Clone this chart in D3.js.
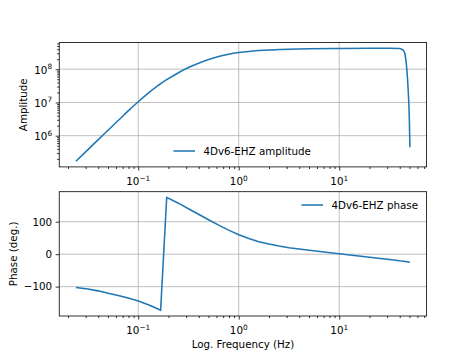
<!DOCTYPE html>
<html><head><meta charset="utf-8">
<script src="https://cdn.jsdelivr.net/npm/d3@7"></script>
<style>
body{margin:0;background:#fff}
text{font-family:"DejaVu Sans",sans-serif;fill:#000}
</style>
</head><body><svg id="c" width="474" height="355"></svg>
<script>
// ---- data ----
const freqs = [0.024, 0.0316, 0.0398, 0.0501, 0.0631, 0.0794, 0.1, 0.126, 0.158, 0.167, 0.192, 0.251, 0.316, 0.398, 0.501, 0.631, 0.794, 1, 1.26, 1.58, 2.0, 2.51, 3.16, 5.01, 10, 20, 31.6, 39.8, 41.8, 43.6, 45.1, 46.9, 48.6, 49.8, 50.5];
const amplitude = [1.70e5, 3.80e5, 7.50e5, 1.46e6, 2.85e6, 5.56e6, 1.05e7, 1.91e7, 3.27e7, 3.67e7, 4.84e7, 7.85e7, 1.12e8, 1.51e8, 1.95e8, 2.40e8, 2.82e8, 3.16e8, 3.43e8, 3.63e8, 3.80e8, 3.89e8, 3.98e8, 4.12e8, 4.22e8, 4.27e8, 4.27e8, 4.17e8, 3.98e8, 3.63e8, 2.82e8, 1.12e8, 2.24e7, 3.55e6, 4.47e5];
const phase = [-102.5, -107.5, -113, -120, -127, -135, -144, -155.5, -169, -173, 175, 157, 140, 123, 106, 89.5, 74, 60, 48, 38.5, 31, 25, 20, 12, 1, -9.5, -16.5, -20.5, -21.2, -22, -22.7, -23.5, -24.2, -24.7, -25];
const freqTicks = [0.1, 1, 10];
const ampTicks = [1e6, 1e7, 1e8];
const phaseTicks = [-100, 0, 100];
const seriesNames = ["4Dv6-EHZ amplitude", "4Dv6-EHZ phase"];
const xLabel = "Log. Frequency (Hz)";
const ampLabel = "Amplitude";
const phaseLabel = "Phase (deg.)";

// ---- layout ----
const L = 59.25, R = 426.6, T1 = 42.6, B1 = 166.9, T2 = 191.7, B2 = 316;
const FS = 10.3, SUP = 7.3, TL = 3.6, TM = 2.1;
const color = "#1f77b4";
const svg = d3.select("#c");

function logMargin(ext) {
  const a = Math.log10(ext[0]), b = Math.log10(ext[1]), m = (b - a) * 0.05;
  return [10 ** (a - m), 10 ** (b + m)];
}
const x = d3.scaleLog().domain(logMargin(d3.extent(freqs))).range([L, R]);
const yA = d3.scaleLog().domain(logMargin(d3.extent(amplitude))).range([B1, T1]);
const pe = d3.extent(phase), pm = (pe[1] - pe[0]) * 0.05;
const yP = d3.scaleLinear().domain([pe[0] - pm, pe[1] + pm]).range([B2, T2]);

function minors(scale) {
  const [a, b] = scale.domain();
  const out = [];
  for (let e = Math.floor(Math.log10(a)); e <= Math.ceil(Math.log10(b)); e++)
    for (let k = 2; k <= 9; k++) { const v = k * 10 ** e; if (v >= a && v <= b) out.push(v); }
  return out;
}
const expText = v => { const e = Math.round(Math.log10(v)); return e < 0 ? "\u2212" + (-e) : String(e); };

function supLabel(g, text, opts) {
  const t = g.append("text").attr("x", opts.x).attr("y", opts.y)
    .attr("text-anchor", opts.anchor).style("font-size", FS + "px");
  t.append("tspan").text("10");
  t.append("tspan").attr("dy", -4.3).style("font-size", SUP + "px").text(text);
}

function panel(top, bottom, yScale, yTickVals, isLog, yMinor) {
  const g = svg.append("g");
  freqTicks.forEach(v => g.append("line").attr("x1", x(v)).attr("x2", x(v)).attr("y1", top).attr("y2", bottom)
    .attr("stroke", "#b0b0b0").attr("stroke-width", 0.8));
  yTickVals.forEach(v => g.append("line").attr("x1", L).attr("x2", R).attr("y1", yScale(v)).attr("y2", yScale(v))
    .attr("stroke", "#b0b0b0").attr("stroke-width", 0.8));
  const xa = g.append("g").attr("transform", `translate(0,${bottom})`)
    .call(d3.axisBottom(x).tickValues(freqTicks).tickSize(TL).tickFormat(""));
  xa.select(".domain").remove();
  const xm = g.append("g").attr("transform", `translate(0,${bottom})`)
    .call(d3.axisBottom(x).tickValues(minors(x)).tickSize(TM).tickFormat(""));
  xm.select(".domain").remove();
  g.selectAll(".tick line").attr("stroke", "#000").attr("stroke-width", 0.8);
  freqTicks.forEach(v => supLabel(g, expText(v), { x: x(v), y: bottom + 18.3, anchor: "middle" }));
  const ya = g.append("g").attr("transform", `translate(${L},0)`)
    .call(d3.axisLeft(yScale).tickValues(yTickVals).tickSize(TL).tickPadding(3.6)
      .tickFormat(isLog ? "" : d3.format("d")));
  ya.select(".domain").remove();
  ya.selectAll("line").attr("stroke", "#000").attr("stroke-width", 0.8);
  ya.selectAll("text").style("font-size", FS + "px").style("font-family", "DejaVu Sans");
  if (isLog) {
    const ym = g.append("g").attr("transform", `translate(${L},0)`)
      .call(d3.axisLeft(yScale).tickValues(yMinor).tickSize(TM).tickFormat(""));
    ym.select(".domain").remove();
    ym.selectAll("line").attr("stroke", "#000").attr("stroke-width", 0.8);
    yTickVals.forEach(v => supLabel(g, expText(v), { x: L - TL - 3.6, y: yScale(v) + 4.3, anchor: "end" }));
  }
  return g;
}

panel(T1, B1, yA, ampTicks, true, minors(yA));
panel(T2, B2, yP, phaseTicks, false, null);

const defs = svg.append("defs");
defs.append("clipPath").attr("id", "clipA").append("rect").attr("x", L).attr("y", T1).attr("width", R - L).attr("height", B1 - T1);
defs.append("clipPath").attr("id", "clipP").append("rect").attr("x", L).attr("y", T2).attr("width", R - L).attr("height", B2 - T2);

const lineA = d3.line().x((d, i) => x(freqs[i])).y(d => yA(d)).curve(d3.curveMonotoneX);
const lineP = d3.line().x((d, i) => x(freqs[i])).y(d => yP(d));
svg.append("path").datum(amplitude).attr("d", lineA).attr("fill", "none").attr("stroke", color)
  .attr("stroke-width", 1.55).attr("stroke-linejoin", "round").attr("clip-path", "url(#clipA)");
svg.append("path").datum(phase).attr("d", lineP).attr("fill", "none").attr("stroke", color)
  .attr("stroke-width", 1.55).attr("stroke-linejoin", "round").attr("clip-path", "url(#clipP)");

[[T1, B1], [T2, B2]].forEach(([t, b]) => svg.append("rect").attr("x", L).attr("y", t)
  .attr("width", R - L).attr("height", b - t).attr("fill", "none").attr("stroke", "#000").attr("stroke-width", 0.8));

function legend(x0, y0, name) {
  svg.append("line").attr("x1", x0).attr("x2", x0 + 21.5).attr("y1", y0).attr("y2", y0)
    .attr("stroke", color).attr("stroke-width", 1.55);
  svg.append("text").attr("x", x0 + 30).attr("y", y0 + 3.7).style("font-size", FS + "px").text(name);
}
legend(173.5, 151, seriesNames[0]);
legend(301.5, 205, seriesNames[1]);

svg.append("text").attr("x", (L + R) / 2).attr("y", 347.5).attr("text-anchor", "middle")
  .style("font-size", FS + "px").text(xLabel);
svg.append("text").attr("transform", `translate(26.5,${(T1 + B1) / 2}) rotate(-90)`).attr("text-anchor", "middle")
  .style("font-size", FS + "px").text(ampLabel);
svg.append("text").attr("transform", `translate(16.5,${(T2 + B2) / 2}) rotate(-90)`).attr("text-anchor", "middle")
  .style("font-size", FS + "px").text(phaseLabel);
</script>
</body></html>
